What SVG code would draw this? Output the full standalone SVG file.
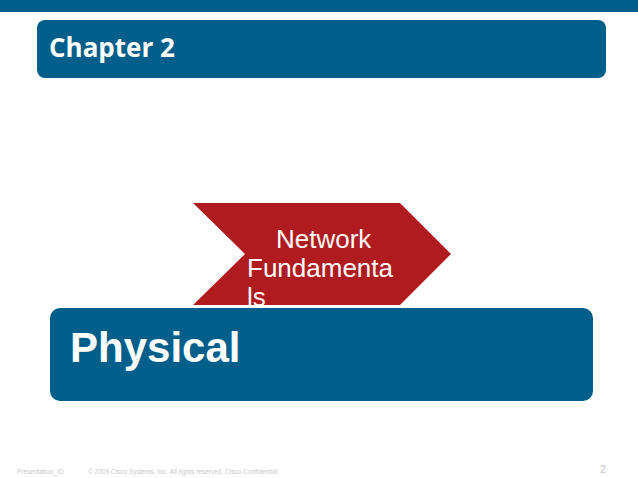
<svg xmlns="http://www.w3.org/2000/svg" width="638" height="478" viewBox="0 0 638 478">
<style>
.blue{fill:#005f8a}
.sans{font-family:"Liberation Sans",Arial,sans-serif}
.foot{font-family:"Liberation Sans",Arial,sans-serif;fill:#c8c8c8;font-size:6.5px}
</style>
<rect width="638" height="478" fill="#fff"/>
<rect x="0" y="0" width="638" height="12" class="blue"/>
<g id="chapter">
<rect x="37" y="20" width="569" height="58" rx="8" class="blue"/>
<text x="49" y="57" font-family="'Open Sans','Liberation Sans',sans-serif" font-weight="bold" font-size="26" fill="#fff">Chapter 2</text>
</g>
<g id="chevron">
<polygon points="193,203 400,203 451,254 400,305 193,305 245,254" fill="#b01b1f"/>
<text class="sans" font-size="26" fill="#fff"><tspan x="276" y="248">Network</tspan><tspan x="247" y="277">Fundamenta</tspan><tspan x="247" y="306">ls</tspan></text>
</g>
<g id="physical">
<rect x="50" y="308" width="543" height="93" rx="10" class="blue"/>
<text x="70" y="362" class="sans" font-weight="bold" font-size="42" fill="#fff">Physical</text>
</g>
<g id="footer">
<text x="17" y="474" class="foot">Presentation_ID</text>
<text x="88" y="474" class="foot">© 2009 Cisco Systems, Inc. All rights reserved.   Cisco Confidential</text>
<text x="600" y="473" class="sans" font-size="11" fill="#c8c8c8">2</text>
</g>
</svg>
